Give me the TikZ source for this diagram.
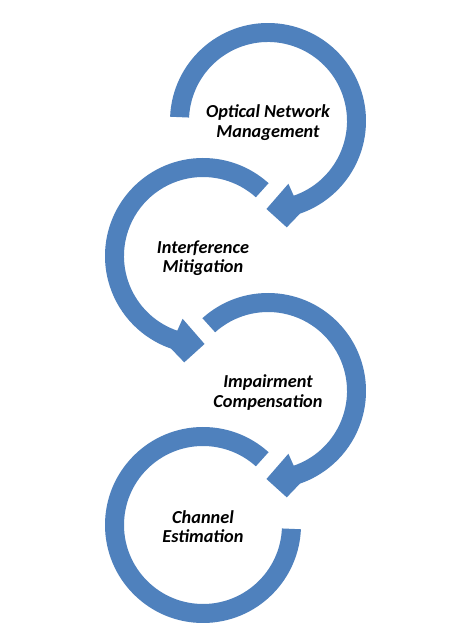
\documentclass[tikz,border=0pt]{standalone}
\usepackage{fontspec}
\setmainfont{Carlito}
\definecolor{ringblue}{HTML}{4F81BD}
\begin{document}
\begin{tikzpicture}[x=1pt,y=1pt,
  ringtext/.style={font=\fontsize{18.3}{19.5}\selectfont\bfseries\itshape, align=center, text=black, inner sep=0pt},
  ringfill/.style={fill=ringblue}]
\useasboundingbox (0,0) rectangle (474,638);
\fill[white] (0,0) rectangle (474,638);
\coordinate (c1) at (268,517);
\coordinate (c2) at (203,382);
\coordinate (c3) at (268,247);
\coordinate (c4) at (203,113);
% ring 1 (clockwise)
\fill[ringfill,shift={(c1)}] (177.5:98pt) arc[start angle=177.5,end angle=-71,radius=98pt]
  -- (-80:108pt) -- (-91:88pt) -- (-72:66pt) -- (-71:79pt)
  arc[start angle=-71,end angle=177.5,radius=79pt] -- cycle;
% ring 2 (counter-clockwise)
\fill[ringfill,shift={(c2)}] (48:98pt) arc[start angle=48,end angle=251,radius=98pt]
  -- (260:108pt) -- (271:88pt) -- (252:66pt) -- (251:79pt)
  arc[start angle=251,end angle=48,radius=79pt] -- cycle;
% ring 3 (clockwise)
\fill[ringfill,shift={(c3)}] (132:98pt) arc[start angle=132,end angle=-71,radius=98pt]
  -- (-80:108pt) -- (-91:88pt) -- (-72:66pt) -- (-71:79pt)
  arc[start angle=-71,end angle=132,radius=79pt] -- cycle;
% ring 4 (counter-clockwise, no head)
\fill[ringfill,shift={(c4)}] (48:98pt) arc[start angle=48,end angle=357.5,radius=98pt]
  -- (357.5:79pt)
  arc[start angle=357.5,end angle=48,radius=79pt] -- cycle;
\node[ringtext] (t1) at (268,515.5) {Optical Network\\Management};
\node[ringtext] (t2) at (203,380) {Interference\\Mitigation};
\node[ringtext] (t3) at (268,245.5) {Impairment\\Compensation};
\node[ringtext] (t4) at (203,111.5) {Channel\\Estimation};
\end{tikzpicture}
\end{document}
